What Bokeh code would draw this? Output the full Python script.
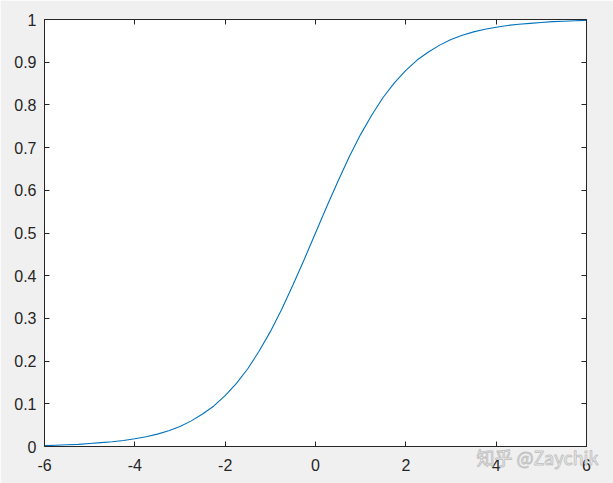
from bokeh.plotting import figure
from bokeh.models import LinearAxis, FixedTicker, Range1d, Title
from bokeh.embed import file_html
from bokeh.resources import INLINE

# values
x_vals = [-6, -5.75, -5.5, -5.25, -5, -4.75, -4.5, -4.25, -4, -3.75, -3.5, -3.25, -3,
          -2.75, -2.5, -2.25, -2, -1.75, -1.5, -1.25, -1, -0.75, -0.5, -0.25, 0,
          0.25, 0.5, 0.75, 1, 1.25, 1.5, 1.75, 2, 2.25, 2.5, 2.75, 3,
          3.25, 3.5, 3.75, 4, 4.25, 4.5, 4.75, 5, 5.25, 5.5, 5.75, 6]
y_vals = [0.002, 0.003, 0.004, 0.005, 0.007, 0.009, 0.011, 0.014, 0.018, 0.023, 0.029, 0.037, 0.047,
          0.060, 0.076, 0.095, 0.119, 0.148, 0.182, 0.223, 0.269, 0.321, 0.378, 0.438, 0.500,
          0.562, 0.622, 0.679, 0.731, 0.777, 0.818, 0.852, 0.881, 0.905, 0.924, 0.940, 0.953,
          0.963, 0.971, 0.977, 0.982, 0.986, 0.989, 0.991, 0.993, 0.995, 0.996, 0.997, 0.998]
x_ticks = [-6, -4, -2, 0, 2, 4, 6]
x_tick_labels = {-6: "-6", -4: "-4", -2: "-2", 0: "0", 2: "2", 4: "4", 6: "6"}
y_ticks = [0, 0.1, 0.2, 0.3, 0.4, 0.5, 0.6, 0.7, 0.8, 0.9, 1]
y_tick_labels = {0: "0", 0.1: "0.1", 0.2: "0.2", 0.3: "0.3", 0.4: "0.4", 0.5: "0.5",
                 0.6: "0.6", 0.7: "0.7", 0.8: "0.8", 0.9: "0.9", 1: "1"}
watermark = "知乎 @Zaychik"

BG = "#f0f0f0"
FONT = "Liberation Sans"
INK = "#262626"

p = figure(width=613, height=483, output_backend="svg", toolbar_location=None,
           x_range=Range1d(-6, 6), y_range=Range1d(0, 1),
           x_axis_location=None, y_axis_location=None,
           background_fill_color="white", border_fill_color=BG,
           min_border_left=44, min_border_right=27, min_border_top=19, min_border_bottom=37)
p.outline_line_color = INK
p.outline_line_width = 1
p.grid.visible = False

def style(ax):
    ax.major_tick_in = 5
    ax.major_tick_out = 0
    ax.minor_tick_in = 0
    ax.minor_tick_out = 0
    ax.axis_line_color = INK
    ax.major_tick_line_color = INK
    ax.major_label_text_font = FONT
    ax.major_label_text_font_size = "16px"
    ax.major_label_text_color = INK

xb = LinearAxis(ticker=FixedTicker(ticks=x_ticks))
style(xb)
xb.major_label_standoff = 12
xb.major_label_overrides = x_tick_labels
p.add_layout(xb, "below")
xa = LinearAxis(ticker=FixedTicker(ticks=x_ticks))
style(xa)
xa.major_label_standoff = 0
xa.major_label_overrides = {t: "" for t in x_ticks}
p.add_layout(xa, "above")

yl = LinearAxis(ticker=FixedTicker(ticks=y_ticks))
style(yl)
yl.major_label_standoff = 8
yl.major_label_overrides = y_tick_labels
p.add_layout(yl, "left")
yr = LinearAxis(ticker=FixedTicker(ticks=y_ticks))
style(yr)
yr.major_label_standoff = 0
yr.major_label_overrides = {t: "" for t in y_ticks}
p.add_layout(yr, "right")

p.line(x_vals, y_vals, line_color="#0072BD", line_width=1.1)

wm = Title(text=watermark, align="right", vertical_align="top", offset=-12, standoff=-60,
           text_font="Noto Sans CJK SC", text_font_size="18px", text_font_style="normal",
           text_color="#ffffff", text_outline_color="#c4c4c4")
p.add_layout(wm, "below")

html = file_html(p, INLINE)
html = html.replace("<body>", '<body style="background:%s">' % BG, 1)
open("out.html", "w").write(html)
